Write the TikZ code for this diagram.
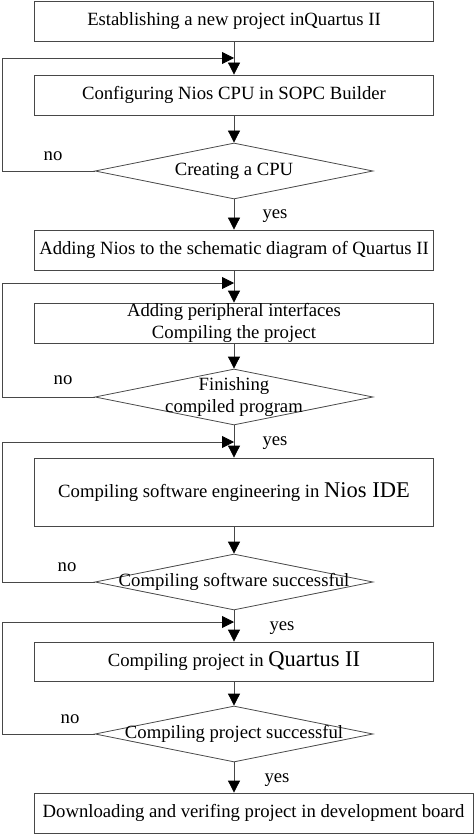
\documentclass[tikz,border=0pt]{standalone}
\usepackage{fontspec}
\setmainfont{Liberation Serif}
\usetikzlibrary{shapes.geometric,arrows.meta}
\colorlet{linegray}{black!72}
\newcommand{\bigname}[1]{{\fontsize{22.5}{24}\selectfont #1}}
\newcommand{\overhang}[1]{\makebox[0pt]{#1}}

\begin{document}
\begin{tikzpicture}[x=1pt,y=-1pt]


\tikzstyle{stepbox}=[rectangle,draw=linegray,line width=0.8pt,inner sep=0pt,align=center,font=\fontsize{18.7}{22}\selectfont]
\tikzstyle{decision}=[diamond,draw=linegray,line width=0.8pt,inner sep=0pt,minimum width=278pt,minimum height=56pt,font=\fontsize{18.7}{22}\selectfont]
\tikzstyle{flow}=[draw=linegray,line width=0.8pt,-{Triangle[length=12pt,width=12pt,color=black]}]
\tikzstyle{tag}=[inner sep=0pt,font=\fontsize{18.7}{22}\selectfont]
\useasboundingbox (0,0) rectangle (474,834);
  \foreach \name/\x/\y/\w/\h/\text in {B-1/234/21/399/40/{Establishing a new project inQuartus II},
      B-2/234/95/399/40/{Configuring Nios CPU in SOPC Builder},
      B-3/234/250/399/40/{Adding Nios to the schematic diagram of Quartus II},
      B-4/234/323/399/40/{Adding peripheral interfaces\\Compiling the project},
      B-5/234/492/399/68/{Compiling software engineering in \bigname{Nios IDE}},
      B-6/234/661.5/399/39/{Compiling project in \bigname{Quartus II}},
      B-7/253.5/813/439/40/{Downloading and verifing project in development board}}
    \node[stepbox,minimum width=\w pt,minimum height=\h pt] (\name) at (\x,\y) {\text};
  \foreach \name/\y/\text in {D-1/171/{Creating a CPU},
      D-2/397/{\begin{tabular}{@{}c@{}}Finishing\\compiled program\end{tabular}},
      D-3/582/{Compiling software successful},
      D-4/734/{Compiling project successful}}
    \node[decision] (\name) at (234,\y) {\overhang{\text}};
  \foreach \from/\to in {B-1/B-2,B-2/D-1,D-1/B-3,B-3/B-4,B-4/D-2,D-2/B-5,B-5/D-3,D-3/B-6,B-6/D-4}
    { \draw[flow] (\from.south) -- (\to.north); }
  \draw[flow] (D-4.south) -- (D-4.south |- B-7.north);
  \coordinate (rail) at (2,0);
  \foreach \i/\y/\nx/\ny/\yx/\yy in {1/58/53/156/275/216, 2/283/63/380/275/443, 3/442/67/567/282/628, 4/622/70/719/277/780}
    { \coordinate (J-\i) at (234,\y);
      \draw[flow] (D-\i.west) -- (D-\i.west -| rail) |- (J-\i);
      \node[tag] (no-\i) at (\nx,\ny) {no};
      \node[tag] (yes-\i) at (\yx,\yy) {yes}; }

        \end{tikzpicture}
\end{document}
